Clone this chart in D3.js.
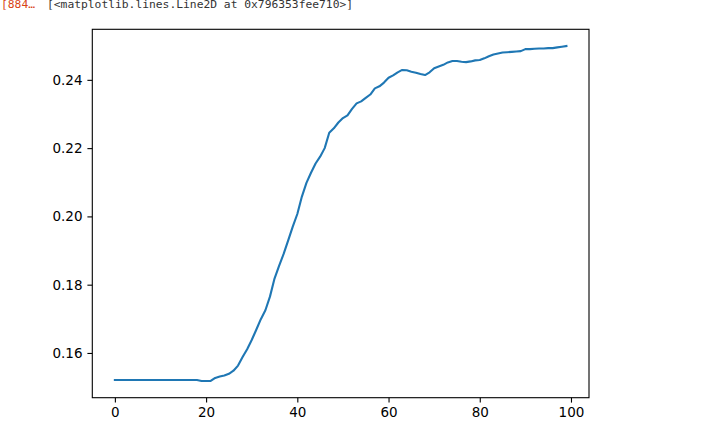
<!DOCTYPE html>
<html>
<head>
<meta charset="utf-8">
<script src="https://cdn.jsdelivr.net/npm/d3@7"></script>
<style>
  body { margin: 0; background: #fff; }
  svg { display: block; }
</style>
</head>
<body>
<script>
// values, one per step 0..99
var STEPS = d3.range(100);
var VALUES = [
  0.1521, 0.1521, 0.1521, 0.1521, 0.1521, 0.1521, 0.1521, 0.1521, 0.1521, 0.1521,
  0.1521, 0.1521, 0.1521, 0.1521, 0.1521, 0.1521, 0.1521, 0.1521, 0.1521, 0.1518,
  0.1518, 0.1518, 0.1527, 0.1531, 0.1534, 0.1539, 0.1548, 0.1563, 0.1588, 0.1611,
  0.1638, 0.1668, 0.1699, 0.1725, 0.1765, 0.1818, 0.1855, 0.1890, 0.1930, 0.1970,
  0.2007, 0.2058, 0.2098, 0.2128, 0.2155, 0.2175, 0.2200, 0.2245, 0.2258, 0.2275,
  0.2288, 0.2296, 0.2315, 0.2331, 0.2337, 0.2347, 0.2357, 0.2375, 0.2381, 0.2392,
  0.2406, 0.2413, 0.2422, 0.2429, 0.2428, 0.2424, 0.2421, 0.2417, 0.2414, 0.2422,
  0.2434, 0.2439, 0.2444, 0.2451, 0.2455, 0.2455, 0.2453, 0.2452, 0.2454, 0.2457,
  0.2458, 0.2463, 0.2469, 0.2474, 0.2477, 0.2480, 0.2481, 0.2482, 0.2483, 0.2484,
  0.2490, 0.2490, 0.2491, 0.2492, 0.2492, 0.2493, 0.2493, 0.2495, 0.2497, 0.2499
];
var X_TICKS = [0, 20, 40, 60, 80, 100];
var Y_TICKS = [0.16, 0.18, 0.20, 0.22, 0.24];
var PROMPT = "[884\u2026";
var OUT_TEXT = "[<matplotlib.lines.Line2D at 0x796353fee710>]";

var W = 725, H = 436;
var LEFT = 92.3, RIGHT = 589, TOP = 29.3, BOTTOM = 397.7;
var TICK = 4.9;

var svg = d3.select("body").append("svg")
    .attr("width", W)
    .attr("height", H);

// jupyter output line at the top
var head = svg.append("text")
    .attr("x", 1)
    .attr("y", 8)
    .style("font-family", "DejaVu Sans Mono")
    .style("font-size", "11.3px");
head.append("tspan").attr("fill", "#d84315").text(PROMPT);
head.append("tspan").attr("x", 47).attr("fill", "#333").text(OUT_TEXT);

// matplotlib style 5% margins
function padded(ext) {
    var m = (ext[1] - ext[0]) * 0.05;
    return [ext[0] - m, ext[1] + m];
}

var x = d3.scaleLinear()
    .domain(padded(d3.extent(STEPS)))
    .range([LEFT, RIGHT]);

var y = d3.scaleLinear()
    .domain(padded(d3.extent(VALUES)))
    .range([BOTTOM, TOP]);

var xAxis = svg.append("g")
    .attr("transform", "translate(0," + BOTTOM + ")")
    .call(d3.axisBottom(x).tickValues(X_TICKS).tickSize(TICK).tickPadding(4.9)
        .tickFormat(d3.format("d")));

var yAxis = svg.append("g")
    .attr("transform", "translate(" + LEFT + ",0)")
    .call(d3.axisLeft(y).tickValues(Y_TICKS).tickSize(TICK).tickPadding(4.9)
        .tickFormat(d3.format(".2f")));

[xAxis, yAxis].forEach(function(g) {
    g.select(".domain").remove();
    g.selectAll(".tick line").attr("stroke", "#000").attr("stroke-width", 1.1);
    g.selectAll(".tick text")
        .attr("fill", "#000")
        .style("font-family", "DejaVu Sans")
        .style("font-size", "13.5px");
});

var line = d3.line()
    .x(function(d, i) { return x(STEPS[i]); })
    .y(function(d) { return y(d); });

svg.append("path")
    .datum(VALUES)
    .attr("d", line)
    .attr("fill", "none")
    .attr("stroke", "#1f77b4")
    .attr("stroke-width", 2.1)
    .attr("stroke-linejoin", "round")
    .attr("stroke-linecap", "square");

// axes frame
svg.append("rect")
    .attr("x", LEFT)
    .attr("y", TOP)
    .attr("width", RIGHT - LEFT)
    .attr("height", BOTTOM - TOP)
    .attr("fill", "none")
    .attr("stroke", "#000")
    .attr("stroke-width", 1.1);
</script>
</body>
</html>
